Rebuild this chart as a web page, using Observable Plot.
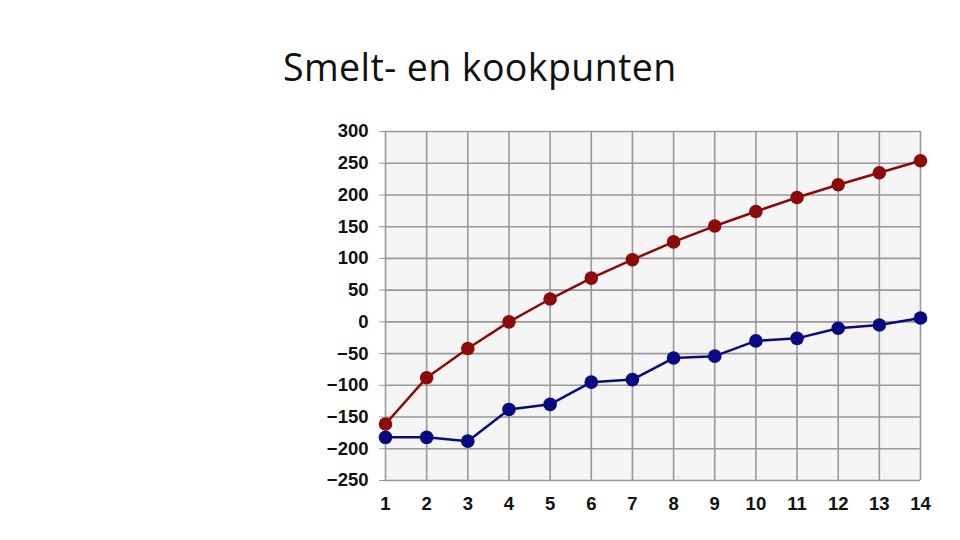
<!DOCTYPE html>
<html><head><meta charset="utf-8">
<script src="https://cdn.jsdelivr.net/npm/d3@7"></script>
<script src="https://cdn.jsdelivr.net/npm/@observablehq/plot@0.6"></script>
<style>
body{margin:0;background:#fff;}
#wrap{position:relative;width:960px;height:540px;overflow:hidden;}
#title{position:absolute;left:283px;top:41px;font-family:"Open Sans",Lato,sans-serif;font-size:37.5px;letter-spacing:0.4px;color:#111;white-space:nowrap;}
#chart{position:absolute;left:0;top:0;}
#chart svg text{font-size:18.5px !important;font-weight:bold;font-family:"Liberation Sans",Arial,sans-serif;fill:#111;}
</style></head>
<body>
<div id="wrap"><div id="chart"></div><div id="title">Smelt- en kookpunten</div></div>
<script>
const carbons = [1,2,3,4,5,6,7,8,9,10,11,12,13,14];
const kookpunt = [-161,-88,-42,0,36,69,98,126,151,174,196,216,235,254];
const smeltpunt = [-182,-182,-188,-138,-130,-95,-91,-57,-54,-30,-26,-10,-5,6];
const yTicks = [300,250,200,150,100,50,0,-50,-100,-150,-200,-250];

const kook = carbons.map((c,i)=>({x:c,y:kookpunt[i]}));
const smelt = carbons.map((c,i)=>({x:c,y:smeltpunt[i]}));

const plot = Plot.plot({
  width:960, height:540,
  marginLeft:385, marginRight:40, marginTop:131, marginBottom:60,
  style:{background:"transparent"},
  x:{domain:[1,14], label:null},
  y:{domain:[-250,300], label:null},
  marks:[
    Plot.frame({fill:"#f5f5f5", stroke:null}),
    Plot.gridX(carbons,{stroke:"#999", strokeOpacity:1, strokeWidth:1.6}),
    Plot.gridY(yTicks,{stroke:"#999", strokeOpacity:1, strokeWidth:1.6}),
    Plot.axisX({ticks:carbons, tickSize:0, tickPadding:16, tickFormat:d=>d, label:null}),
    Plot.axisY({ticks:yTicks, tickSize:6, tickPadding:11, stroke:"#999", label:null}),
    Plot.line(kook,{x:"x",y:"y",stroke:"#8b0a0a",strokeWidth:2.5}),
    Plot.dot(kook,{x:"x",y:"y",fill:"#8b0a0a",r:6.8}),
    Plot.line(smelt,{x:"x",y:"y",stroke:"#0a0a80",strokeWidth:2.5}),
    Plot.dot(smelt,{x:"x",y:"y",fill:"#0a0a80",r:6.8})
  ]
});
document.getElementById("chart").appendChild(plot);
</script>
</body></html>
